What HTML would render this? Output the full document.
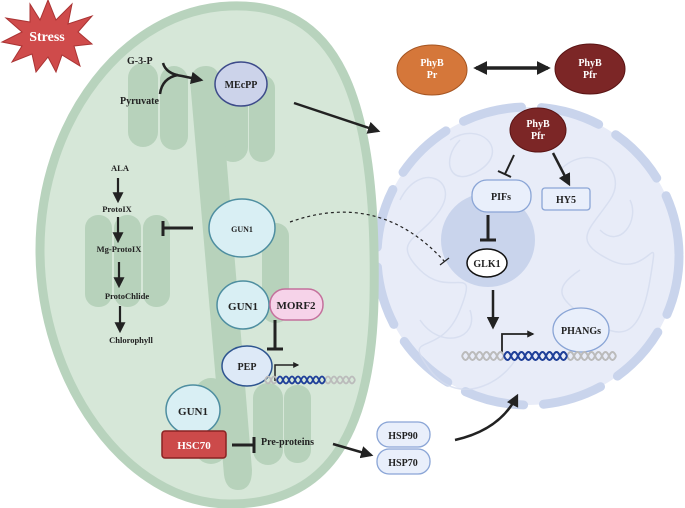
<!DOCTYPE html>
<html><head><meta charset="utf-8"><style>
html,body{margin:0;padding:0;background:#fff;}
svg{display:block;}
text{font-family:"Liberation Serif",serif;font-weight:bold;fill:#222;}
</style></head><body>
<svg width="685" height="508" viewBox="0 0 685 508" xmlns="http://www.w3.org/2000/svg">
<defs>
<marker id="ah" viewBox="0 0 10 10" refX="8" refY="5" markerWidth="5" markerHeight="5" orient="auto"><path d="M0,0 L10,5 L0,10 Z" fill="#222"/></marker>
<marker id="ah2" viewBox="0 0 10 10" refX="8" refY="5" markerWidth="4" markerHeight="4" orient="auto-start-reverse"><path d="M0,0 L10,5 L0,10 Z" fill="#222"/></marker>
</defs>
<!-- nucleus -->
<ellipse cx="528" cy="256" rx="151" ry="149" fill="#e8ecf8"/>
<ellipse cx="528" cy="256" rx="151" ry="149" fill="none" stroke="#c9d4ec" stroke-width="9" stroke-linecap="round" stroke-dasharray="60 20"/>
<g fill="none" stroke="#d5dcef" stroke-width="1.5" opacity="0.8">
<path d="M400,200 c20,-40 60,-20 40,10 s-50,30 -20,60 s60,-10 40,40 s-60,20 -30,60 s80,10 90,-20"/>
<path d="M560,170 c30,-30 70,0 50,30 s-40,40 0,60 s50,-40 40,20 s-30,60 -60,40 s-40,-30 -10,-50"/>
<path d="M450,140 c30,-20 60,10 30,30 s-40,-10 -20,-30 M600,230 c20,20 40,-10 30,-30 M420,320 c20,30 60,20 50,-10"/>
</g>
<circle cx="488" cy="240" r="47" fill="#c9d4ec"/>
<!-- chloroplast -->
<path d="M230,6 C335,2 378,90 374,300 C371,430 330,504 230,504 C125,504 40,380 40,250 C40,120 125,10 230,6 Z" fill="#d6e7d8" stroke="#b8d3bd" stroke-width="9"/>
<g fill="#b7d2bb">
<rect x="128" y="63" width="30" height="84" rx="15"/>
<rect x="160" y="66" width="28" height="84" rx="14"/>
<rect x="218" y="68" width="30" height="94" rx="15"/>
<rect x="249" y="75" width="26" height="87" rx="13"/>
<path d="M190,80 Q193,66 206,66 Q218,66 220,80 L252,470 Q252,490 238,490 Q226,490 224,475 Z"/>
<rect x="85" y="215" width="27" height="92" rx="13"/>
<rect x="114" y="215" width="27" height="92" rx="13"/>
<rect x="143" y="215" width="27" height="92" rx="13"/>
<rect x="262" y="223" width="27" height="100" rx="13"/>
<rect x="195" y="378" width="32" height="86" rx="16"/>
<rect x="253" y="383" width="30" height="82" rx="15"/>
<rect x="284" y="385" width="27" height="78" rx="13"/>
</g>
<!-- stress -->
<polygon points="48,0 56,20 72,4 68,24 92,16 78,32 92,44 74,46 80,66 62,55 56,72 48,57 36,72 32,54 12,62 22,46 2,42 22,32 6,18 30,22 30,4 40,20" fill="#cf4b4b" stroke="#a33" stroke-width="1"/>
<text x="47" y="41" text-anchor="middle" font-size="14" style="fill:#fff">Stress</text>
<!-- MEP -->
<text x="127" y="64" font-size="10">G-3-P</text>
<text x="120" y="104" font-size="10">Pyruvate</text>
<path d="M163,63 Q166,74 182,76 L201,80" fill="none" stroke="#222" stroke-width="2.5" marker-end="url(#ah)"/>
<path d="M160,94 Q162,78 178,75" fill="none" stroke="#222" stroke-width="2.5"/>
<ellipse cx="241" cy="84" rx="26" ry="22" fill="#ccd3ea" stroke="#3d4b8a" stroke-width="1.5"/>
<text x="241" y="88" text-anchor="middle" font-size="10">MEcPP</text>
<line x1="294" y1="103" x2="378" y2="131" stroke="#222" stroke-width="2.5" marker-end="url(#ah)"/>
<!-- tetrapyrrole -->
<g font-size="8.5">
<text x="120" y="171" text-anchor="middle">ALA</text>
<text x="117" y="212" text-anchor="middle">ProtoIX</text>
<text x="119" y="252" text-anchor="middle">Mg-ProtoIX</text>
<text x="127" y="299" text-anchor="middle">ProtoChlide</text>
<text x="131" y="343" text-anchor="middle">Chlorophyll</text>
</g>
<g stroke="#222" stroke-width="2.2" marker-end="url(#ah)">
<line x1="118" y1="178" x2="118" y2="201"/>
<line x1="118" y1="217" x2="118" y2="241"/>
<line x1="119" y1="262" x2="119" y2="286"/>
<line x1="120" y1="306" x2="120" y2="331"/>
</g>
<!-- GUN1 top -->
<line x1="193" y1="228" x2="163" y2="228" stroke="#222" stroke-width="3"/>
<line x1="163" y1="221" x2="163" y2="236" stroke="#222" stroke-width="3"/>
<ellipse cx="242" cy="228" rx="33" ry="29" fill="#d9eff4" stroke="#4e8ea0" stroke-width="1.5"/>
<text x="242" y="232" text-anchor="middle" font-size="8">GUN1</text>
<path d="M290,222 Q380,190 445,262" fill="none" stroke="#222" stroke-width="1.2" stroke-dasharray="3 3"/>
<line x1="440" y1="265" x2="449" y2="258" stroke="#222" stroke-width="1.2"/>
<!-- GUN1 MORF2 -->
<ellipse cx="243" cy="305" rx="26" ry="24" fill="#d9eff4" stroke="#4e8ea0" stroke-width="1.5"/>
<text x="243" y="310" text-anchor="middle" font-size="11">GUN1</text>
<rect x="270" y="289" width="53" height="31" rx="15" fill="#f6d3e9" stroke="#c4709c" stroke-width="1.5"/>
<text x="296" y="309" text-anchor="middle" font-size="11">MORF2</text>
<line x1="275" y1="320" x2="275" y2="349" stroke="#222" stroke-width="3"/>
<line x1="267" y1="349" x2="283" y2="349" stroke="#222" stroke-width="3"/>
<ellipse cx="247" cy="366" rx="25" ry="20" fill="#dde9f7" stroke="#2e5590" stroke-width="1.5"/>
<text x="247" y="370" text-anchor="middle" font-size="10">PEP</text>
<path d="M275,381 L275,365 L298,365" fill="none" stroke="#222" stroke-width="1.5" marker-end="url(#ah2)"/>
<!-- DNA chloroplast -->
<g fill="none" stroke-width="1.8">
<path d="M265,380 q3,-7 6,0 t6,0 t6,0 t6,0 t6,0 t6,0 t6,0 t6,0 t6,0 t6,0 t6,0 t6,0 t6,0 t6,0 t6,0" stroke="#bbb"/>
<path d="M265,380 q3,7 6,0 t6,0 t6,0 t6,0 t6,0 t6,0 t6,0 t6,0 t6,0 t6,0 t6,0 t6,0 t6,0 t6,0 t6,0" stroke="#bbb"/>
<path d="M277,380 q3,-7 6,0 t6,0 t6,0 t6,0 t6,0 t6,0 t6,0 t6,0" stroke="#1e3f9a"/>
<path d="M277,380 q3,7 6,0 t6,0 t6,0 t6,0 t6,0 t6,0 t6,0 t6,0" stroke="#1e3f9a"/>
</g>
<!-- GUN1 HSC70 -->
<ellipse cx="193" cy="410" rx="27" ry="25" fill="#d9eff4" stroke="#4e8ea0" stroke-width="1.5"/>
<text x="193" y="415" text-anchor="middle" font-size="11">GUN1</text>
<rect x="162" y="431" width="64" height="27" rx="3" fill="#cc4a4a" stroke="#8a2222" stroke-width="1.5"/>
<text x="194" y="449" text-anchor="middle" font-size="11" style="fill:#fff">HSC70</text>
<line x1="232" y1="445" x2="254" y2="445" stroke="#222" stroke-width="3"/>
<line x1="254" y1="437" x2="254" y2="453" stroke="#222" stroke-width="3"/>
<text x="261" y="445" font-size="10">Pre-proteins</text>
<line x1="333" y1="444" x2="371" y2="455" stroke="#222" stroke-width="2.5" marker-end="url(#ah)"/>
<rect x="377" y="422" width="53" height="25" rx="12" fill="#e9effb" stroke="#8aa5d6" stroke-width="1.3"/>
<text x="403" y="439" text-anchor="middle" font-size="10">HSP90</text>
<rect x="377" y="449" width="53" height="25" rx="12" fill="#e9effb" stroke="#8aa5d6" stroke-width="1.3"/>
<text x="403" y="466" text-anchor="middle" font-size="10">HSP70</text>
<path d="M455,440 Q500,430 517,396" fill="none" stroke="#222" stroke-width="2.5" marker-end="url(#ah)"/>
<!-- PhyB -->
<ellipse cx="432" cy="70" rx="35" ry="25" fill="#d5773a" stroke="#a55522" stroke-width="1"/>
<text x="432" y="66" text-anchor="middle" font-size="10" style="fill:#fff">PhyB</text>
<text x="432" y="78" text-anchor="middle" font-size="10" style="fill:#fff">Pr</text>
<ellipse cx="590" cy="69" rx="35" ry="25" fill="#7c2626" stroke="#5a1414" stroke-width="1"/>
<text x="590" y="66" text-anchor="middle" font-size="10" style="fill:#fff">PhyB</text>
<text x="590" y="78" text-anchor="middle" font-size="10" style="fill:#fff">Pfr</text>
<line x1="476" y1="68" x2="548" y2="68" stroke="#222" stroke-width="3.5" marker-start="url(#ah2)" marker-end="url(#ah2)"/>
<!-- nucleus contents -->
<ellipse cx="538" cy="130" rx="28" ry="22" fill="#7c2626" stroke="#5a1414" stroke-width="1"/>
<text x="538" y="127" text-anchor="middle" font-size="10" style="fill:#fff">PhyB</text>
<text x="538" y="139" text-anchor="middle" font-size="10" style="fill:#fff">Pfr</text>
<line x1="514" y1="155" x2="505" y2="174" stroke="#222" stroke-width="2"/>
<line x1="498" y1="171" x2="511" y2="177" stroke="#222" stroke-width="2"/>
<line x1="553" y1="153" x2="569" y2="184" stroke="#222" stroke-width="2.5" marker-end="url(#ah)"/>
<rect x="472" y="180" width="59" height="32" rx="15" fill="#e9effb" stroke="#8aa5d6" stroke-width="1.3"/>
<text x="501" y="200" text-anchor="middle" font-size="10">PIFs</text>
<rect x="542" y="188" width="48" height="22" rx="3" fill="#e9effb" stroke="#8aa5d6" stroke-width="1.3"/>
<text x="566" y="203" text-anchor="middle" font-size="10">HY5</text>
<line x1="488" y1="215" x2="488" y2="240" stroke="#222" stroke-width="3"/>
<line x1="480" y1="240" x2="496" y2="240" stroke="#222" stroke-width="3"/>
<ellipse cx="487" cy="263" rx="20" ry="14" fill="#fff" stroke="#111" stroke-width="1.5"/>
<text x="487" y="267" text-anchor="middle" font-size="10">GLK1</text>
<line x1="493" y1="290" x2="493" y2="327" stroke="#222" stroke-width="2.5" marker-end="url(#ah)"/>
<path d="M502,353 L502,334 L533,334" fill="none" stroke="#222" stroke-width="1.8" marker-end="url(#ah2)"/>
<ellipse cx="581" cy="330" rx="28" ry="22" fill="#e9effb" stroke="#8aa5d6" stroke-width="1.3"/>
<text x="581" y="334" text-anchor="middle" font-size="10">PHANGs</text>
<g fill="none" stroke-width="2">
<path d="M462,356 q3.5,-8 7,0 t7,0 t7,0 t7,0 t7,0 t7,0 t7,0 t7,0 t7,0 t7,0 t7,0 t7,0 t7,0 t7,0 t7,0 t7,0 t7,0 t7,0 t7,0 t7,0 t7,0 t7,0" stroke="#bbb"/>
<path d="M462,356 q3.5,8 7,0 t7,0 t7,0 t7,0 t7,0 t7,0 t7,0 t7,0 t7,0 t7,0 t7,0 t7,0 t7,0 t7,0 t7,0 t7,0 t7,0 t7,0 t7,0 t7,0 t7,0 t7,0" stroke="#bbb"/>
<path d="M504,356 q3.5,-8 7,0 t7,0 t7,0 t7,0 t7,0 t7,0 t7,0 t7,0 t7,0" stroke="#1e3f9a"/>
<path d="M504,356 q3.5,8 7,0 t7,0 t7,0 t7,0 t7,0 t7,0 t7,0 t7,0 t7,0" stroke="#1e3f9a"/>
</g>
</svg>
</body></html>
